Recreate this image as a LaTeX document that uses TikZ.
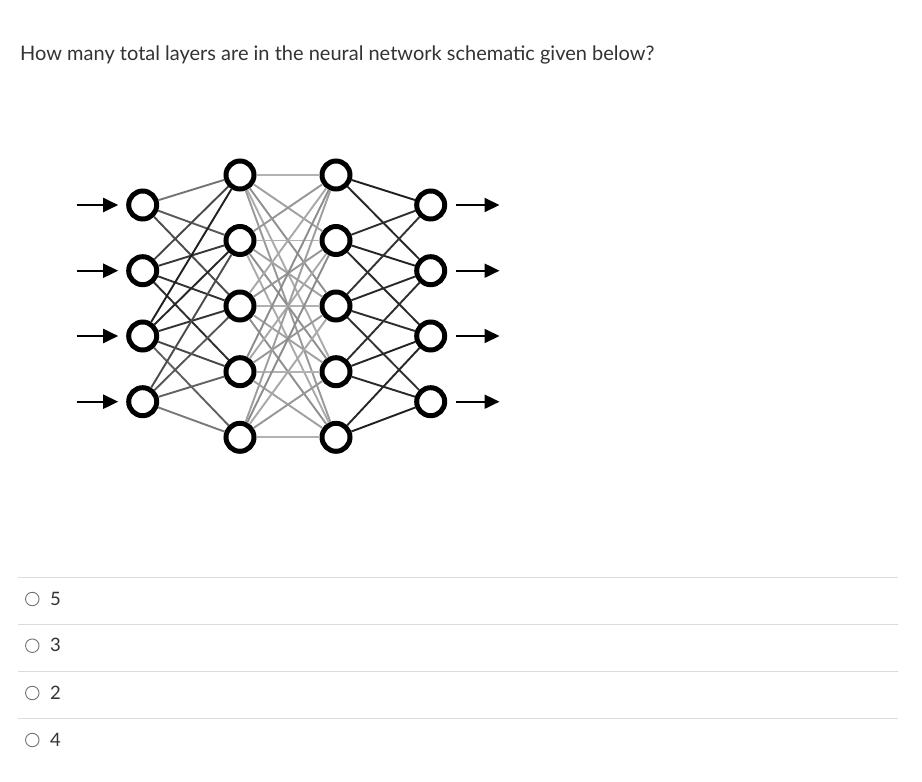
\documentclass[tikz,border=0pt]{standalone}
\usepackage{fontspec}
\setmainfont{Lato}
\usetikzlibrary{arrows.meta}
\begin{document}
\begin{tikzpicture}[x=1pt,y=-1pt,
  neuron/.style={circle,draw=black,fill=white,line width=5pt,minimum size=28pt,inner sep=0pt},
  edge/.style={line width=1.9pt},
  io/.style={line width=2pt,-{Triangle[length=15pt,width=14pt]}},
  sep/.style={draw=black!14,line width=1pt},
  radio/.style={circle,draw=black!55,line width=0.9pt,minimum size=13.5pt,inner sep=0pt},
  opt/.style={anchor=base west,inner sep=0pt,font=\fontsize{18.5}{22}\selectfont,text=black!80},
]
\useasboundingbox[fill=white] (0,0) rectangle (922,782);
\node[anchor=base west,inner sep=0pt,font=\fontsize{20}{24}\selectfont,text=black!80] (q) at (20,60)
  {How many total layers are in the neural network schematic given below?};
% layers
\foreach \k/\y in {1/205,2/270.7,3/336,4/401.7}{
  \node[neuron] (a\k) at (142.7,\y) {};
  \node[neuron] (d\k) at (430.7,\y) {};
}
\foreach \k/\y in {1/175,2/240.5,3/306,4/371.7,5/437.3}{
  \node[neuron] (b\k) at (240,\y) {};
  \node[neuron] (c\k) at (336,\y) {};
}
% input -> hidden 1
\foreach \i/\j/\g in {1/1/55,1/2/65,1/3/70,
                      2/1/72,2/2/78,2/3/80,2/4/82,
                      3/1/88,3/2/85,3/3/80,3/4/72,3/5/62,
                      4/2/70,4/3/66,4/4/62,4/5/52}{
  \draw[edge,draw=black!\g] (a\i) -- (b\j);
}
% hidden 1 -> hidden 2 (full)
\foreach \i in {1,...,5}{
  \foreach \j in {1,...,5}{
    \pgfmathtruncatemacro\g{30+mod(\i*11+\j*7,18)}
    \draw[edge,draw=black!\g] (b\i) -- (c\j);
  }
}
% hidden 2 -> output
\foreach \i/\j/\g in {1/1/88,1/2/85,
                      2/1/82,2/2/86,2/3/84,
                      3/1/80,3/2/84,3/3/82,3/4/80,
                      4/2/82,4/3/86,4/4/84,
                      5/3/85,5/4/88}{
  \draw[edge,draw=black!\g] (c\i) -- (d\j);
}
% io arrows
\foreach \k/\y in {1/205,2/270.7,3/336,4/401.7}{
  \coordinate (in\k) at (76.7,\y);
  \coordinate (out\k) at (499.5,\y);
  \draw[io,shorten >=8pt] (in\k) -- (a\k);
  \draw[io,shorten <=9pt] (d\k) -- (out\k);
}
% options
\foreach \k/\y in {1/577.7,2/624.7,3/671.7,4/718.7}{
  \coordinate (sl\k) at (18,\y);
  \coordinate (sr\k) at (898,\y);
  \draw[sep] (sl\k) -- (sr\k);
}
\foreach \k/\y/\t in {1/599/5,2/645.7/3,3/693/2,4/740/4}{
  \node[radio] (r\k) at (32.3,\y) {};
  \node[opt] (o\k) at (50,\y+6.2) {\t};
}
\end{tikzpicture}
\end{document}
